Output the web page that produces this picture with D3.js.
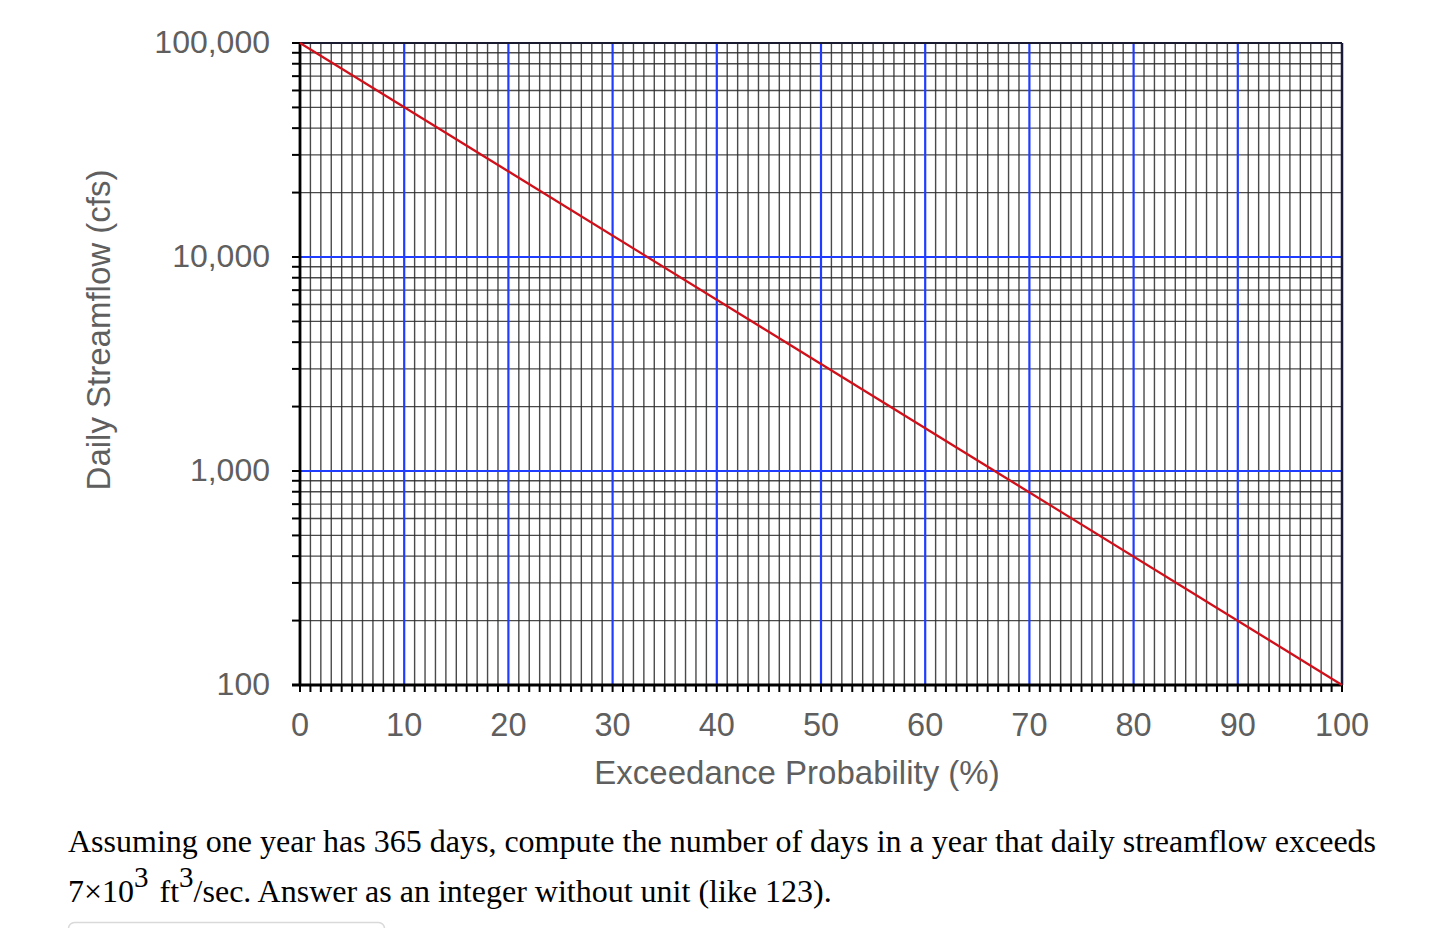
<!DOCTYPE html>
<html>
<head>
<meta charset="utf-8">
<script src="https://cdn.jsdelivr.net/npm/d3@7"></script>
<style>
  html, body { margin: 0; padding: 0; background: #fff; }
  svg { display: block; }
</style>
</head>
<body>
<svg id="chart" width="1434" height="928"></svg>
<script>
// ---- data ----
const exceedance = [0, 100];          // % exceedance probability
const streamflow = [100000, 100];      // daily streamflow (cfs)
const xTickLabels = [0, 10, 20, 30, 40, 50, 60, 70, 80, 90, 100];
const yTickLabels = [100, 1000, 10000, 100000];
const xTitle = "Exceedance Probability (%)";
const yTitle = "Daily Streamflow (cfs)";
const questionLine1 = "Assuming one year has 365 days, compute the number of days in a year that daily streamflow exceeds";

const svg = d3.select("#chart");
const x = d3.scaleLinear().domain([0, 100]).range([300, 1342]);
const y = d3.scaleLog().domain([100, 100000]).range([685, 43]);

// minor / major values
const xMinor = d3.range(0, 101);
const yAll = [];
for (let d = 100; d < 100000; d *= 10) for (let k = 1; k < 10; k++) yAll.push(d * k);
yAll.push(100000);

const g = svg.append("g");

// vertical minor grid
g.selectAll(".vminor").data(xMinor.filter(v => v % 10 !== 0)).join("line")
  .attr("x1", d => x(d)).attr("x2", d => x(d))
  .attr("y1", y(100000)).attr("y2", y(100))
  .attr("stroke", "#2a2a2a").attr("stroke-width", 1.4).attr("stroke-opacity", 0.85);
// horizontal minor grid
g.selectAll(".hminor").data(yAll.filter(v => !yTickLabels.includes(v))).join("line")
  .attr("y1", d => y(d)).attr("y2", d => y(d))
  .attr("x1", x(0)).attr("x2", x(100))
  .attr("stroke", "#2a2a2a").attr("stroke-width", 1.4).attr("stroke-opacity", 0.85);
// blue major grid
g.selectAll(".vmajor").data(xTickLabels.filter(v => v > 0 && v < 100)).join("line")
  .attr("x1", d => x(d)).attr("x2", d => x(d))
  .attr("y1", y(100000)).attr("y2", y(100))
  .attr("stroke", "#1f3cff").attr("stroke-width", 2.2);
g.selectAll(".hmajor").data([1000, 10000]).join("line")
  .attr("y1", d => y(d)).attr("y2", d => y(d))
  .attr("x1", x(0)).attr("x2", x(100))
  .attr("stroke", "#1f3cff").attr("stroke-width", 2.2);

// top and right borders
g.append("line").attr("x1", x(0)).attr("x2", x(100)).attr("y1", y(100000)).attr("y2", y(100000))
  .attr("stroke", "#1a1a2e").attr("stroke-width", 2);
g.append("line").attr("x1", x(100)).attr("x2", x(100)).attr("y1", y(100000)).attr("y2", y(100))
  .attr("stroke", "#1a1a3a").attr("stroke-width", 2.5);

// left axis ticks
g.selectAll(".ytick").data(yAll).join("line")
  .attr("x1", x(0) - 8).attr("x2", x(0))
  .attr("y1", d => y(d)).attr("y2", d => y(d))
  .attr("stroke", "#000").attr("stroke-width", 2);
// bottom axis ticks
g.selectAll(".xtick").data(xMinor).join("line")
  .attr("x1", d => x(d)).attr("x2", d => x(d))
  .attr("y1", y(100)).attr("y2", y(100) + 7)
  .attr("stroke", "#000").attr("stroke-width", 2);
// axis lines
g.append("line").attr("x1", x(0)).attr("x2", x(0)).attr("y1", y(100000) - 1).attr("y2", y(100) + 1)
  .attr("stroke", "#000").attr("stroke-width", 2.8);
g.append("line").attr("x1", x(0) - 8).attr("x2", x(100)).attr("y1", y(100)).attr("y2", y(100))
  .attr("stroke", "#000").attr("stroke-width", 2.8);

// curve
const line = d3.line().x((d, i) => x(exceedance[i])).y(d => y(d));
g.append("path").datum(streamflow).attr("d", line)
  .attr("fill", "none").attr("stroke", "#d0101a").attr("stroke-width", 2.2);

// tick labels
const sans = "Liberation Sans, Arial, sans-serif";
const fmt = d3.format(",");
g.selectAll(".ylab").data(yTickLabels).join("text")
  .attr("x", 270).attr("y", d => y(d) - 1.5).attr("dy", "0.36em")
  .attr("text-anchor", "end")
  .attr("font-family", sans).attr("font-size", 32)
  .attr("fill", "#5f5f5f").text(d => fmt(d));
g.selectAll(".xlab").data(xTickLabels).join("text")
  .attr("x", d => x(d)).attr("y", 736)
  .attr("text-anchor", "middle")
  .attr("font-family", sans).attr("font-size", 32.5)
  .attr("fill", "#5f5f5f").text(d => d);

// axis titles
svg.append("text").attr("x", 797).attr("y", 784).attr("text-anchor", "middle")
  .attr("font-family", sans).attr("font-size", 33)
  .attr("fill", "#5f5f5f").text(xTitle);
svg.append("text").attr("transform", "translate(110,330) rotate(-90)").attr("text-anchor", "middle")
  .attr("font-family", sans).attr("font-size", 33)
  .attr("fill", "#5f5f5f").text(yTitle);

// question text
const serif = "Liberation Serif, Times New Roman, serif";
svg.append("text").attr("x", 68).attr("y", 852)
  .attr("font-family", serif).attr("font-size", 32).attr("fill", "#000")
  .text(questionLine1);
const t2 = svg.append("text").attr("x", 68).attr("y", 902)
  .attr("font-family", serif).attr("font-size", 32).attr("fill", "#000");
t2.append("tspan").text("7×10");
t2.append("tspan").attr("dy", -15).attr("font-size", 29).text("3");
t2.append("tspan").attr("dy", 15).attr("dx", 3).text(" ft");
t2.append("tspan").attr("dy", -15).attr("font-size", 29).text("3");
t2.append("tspan").attr("dy", 15).text("/sec. Answer as an integer without unit (like 123).");

// answer box (partially visible)
svg.append("rect").attr("x", 68.5).attr("y", 922.5).attr("width", 316).attr("height", 30).attr("rx", 6)
  .attr("fill", "none").attr("stroke", "#d9d9d9").attr("stroke-width", 1.5);
</script>
</body>
</html>
